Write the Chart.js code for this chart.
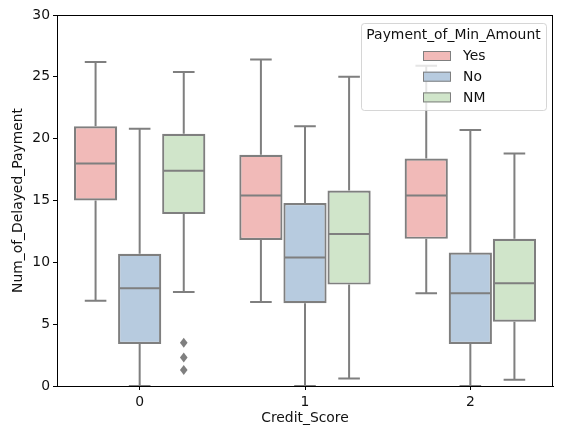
<!DOCTYPE html>
<html>
<head>
<meta charset="utf-8">
<script src="https://cdn.jsdelivr.net/npm/chart.js@4"></script>
<style>
  html, body { margin: 0; padding: 0; background: #fff; }
  #wrap { width: 563px; height: 438px; }
</style>
</head>
<body>
<div id="wrap"><canvas id="chart" width="563" height="438"></canvas></div>
<script>
const creditScores = ["0", "1", "2"];
const hueLabels = ["Yes", "No", "NM"];
const hueColors = ["#f1bab8", "#b7cbdf", "#d0e5ca"];

// per hue, one entry per credit score
const whiskerLow = [[6.9, 6.8, 7.5], [0, 0, 0], [7.6, 0.6, 0.5]];
const q1Values = [[15.0, 11.8, 11.9], [3.4, 6.7, 3.4], [13.9, 8.2, 5.2]];
const medianValues = [[18.0, 15.4, 15.4], [7.9, 10.4, 7.5], [17.4, 12.3, 8.3]];
const q3Values = [[21.0, 18.7, 18.4], [10.7, 14.8, 10.8], [20.4, 15.8, 11.9]];
const whiskerHigh = [[26.2, 26.4, 25.9], [20.8, 21.0, 20.7], [25.4, 25.0, 18.8]];
// outliers: [hue, category, value]
const outliers = [[2, 0, 3.5], [2, 0, 2.3], [2, 0, 1.3]];

const yTicks = [0, 5, 10, 15, 20, 25, 30];
const edgeColor = "#7f7f7f";
const textColor = "#111";
const fontFamily = "'DejaVu Sans', sans-serif";
const fontSize = 13.9;

const datasets = hueLabels.map((name, h) => ({
  label: name,
  data: creditScores.map((c, i) => [q1Values[h][i], q3Values[h][i]]),
  backgroundColor: hueColors[h],
  borderColor: edgeColor,
  borderWidth: 2.2,
  borderSkipped: false,
  categoryPercentage: 0.8,
  barPercentage: 0.98
}));

const boxPlugin = {
  id: "boxParts",
  afterDatasetsDraw(chart) {
    const ctx = chart.ctx;
    const y = chart.scales.y;
    ctx.save();
    ctx.strokeStyle = edgeColor;
    ctx.lineWidth = 2;
    chart.data.datasets.forEach((ds, h) => {
      const meta = chart.getDatasetMeta(h);
      meta.data.forEach((bar, i) => {
        const cx = bar.x;
        const half = bar.width / 2;
        const cap = bar.width / 4;
        const yLo = y.getPixelForValue(whiskerLow[h][i]);
        const yQ1 = y.getPixelForValue(q1Values[h][i]);
        const yMed = y.getPixelForValue(medianValues[h][i]);
        const yQ3 = y.getPixelForValue(q3Values[h][i]);
        const yHi = y.getPixelForValue(whiskerHigh[h][i]);
        ctx.beginPath();
        ctx.moveTo(cx, yQ1); ctx.lineTo(cx, yLo);
        ctx.moveTo(cx, yQ3); ctx.lineTo(cx, yHi);
        ctx.moveTo(cx - cap, yLo); ctx.lineTo(cx + cap, yLo);
        ctx.moveTo(cx - cap, yHi); ctx.lineTo(cx + cap, yHi);
        ctx.moveTo(cx - half + 1, yMed); ctx.lineTo(cx + half - 1, yMed);
        ctx.stroke();
      });
    });
    ctx.fillStyle = edgeColor;
    outliers.forEach(([h, i, v]) => {
      const bar = chart.getDatasetMeta(h).data[i];
      const px = bar.x;
      const py = y.getPixelForValue(v);
      ctx.beginPath();
      ctx.moveTo(px, py - 5);
      ctx.lineTo(px + 3.8, py);
      ctx.lineTo(px, py + 5);
      ctx.lineTo(px - 3.8, py);
      ctx.closePath();
      ctx.fill();
    });
    ctx.restore();
  },
  afterDraw(chart) {
    const ctx = chart.ctx;
    const a = chart.chartArea;
    ctx.save();
    // frame
    ctx.strokeStyle = "#000";
    ctx.lineWidth = 1;
    ctx.strokeRect(a.left + 0.5, a.top + 0.5, a.right - a.left - 1, a.bottom - a.top);
    // legend
    const lx = a.right - 192, ly = a.top + 8, lw = 185, lh = 87;
    ctx.globalAlpha = 0.8;
    ctx.fillStyle = "#fff";
    ctx.strokeStyle = "#cccccc";
    ctx.beginPath();
    ctx.roundRect(lx + 0.5, ly + 0.5, lw, lh, 3);
    ctx.fill();
    ctx.stroke();
    ctx.globalAlpha = 1;
    ctx.fillStyle = textColor;
    ctx.font = fontSize + "px " + fontFamily;
    ctx.textBaseline = "middle";
    ctx.textAlign = "center";
    ctx.fillText("Payment_of_Min_Amount", lx + lw / 2, ly + 12);
    ctx.textAlign = "left";
    hueLabels.forEach((name, h) => {
      const cy = ly + 33 + h * 20.7;
      ctx.fillStyle = hueColors[h];
      ctx.fillRect(lx + 62, cy - 5, 28, 10);
      ctx.strokeStyle = edgeColor;
      ctx.lineWidth = 1;
      ctx.strokeRect(lx + 62.5, cy - 4.5, 27, 9);
      ctx.fillStyle = textColor;
      ctx.fillText(name, lx + 102, cy + 0.5);
    });
    ctx.restore();
  }
};

new Chart(document.getElementById("chart"), {
  type: "bar",
  data: { labels: creditScores, datasets },
  plugins: [boxPlugin],
  options: {
    responsive: false,
    animation: false,
    layout: { padding: { left: 0, right: 10, top: 15, bottom: 0 } },
    plugins: { legend: { display: false }, tooltip: { enabled: false } },
    scales: {
      x: {
        grid: { display: true, offset: false, drawOnChartArea: false, drawTicks: true, tickLength: 4, color: "#000" },
        border: { display: true, color: "#000" },
        ticks: { color: textColor, font: { family: fontFamily, size: fontSize }, padding: 4 },
        title: { display: true, text: "Credit_Score", color: textColor, font: { family: fontFamily, size: fontSize }, padding: { top: 0, bottom: 11 } },
        afterFit(scale) { scale.height = 52; }
      },
      y: {
        min: 0,
        max: 30,
        afterBuildTicks(scale) { scale.ticks = yTicks.map(v => ({ value: v })); },
        grid: { display: true, drawOnChartArea: false, drawTicks: true, tickLength: 4, color: "#000" },
        border: { display: true, color: "#000" },
        ticks: { color: textColor, font: { family: fontFamily, size: fontSize }, padding: 3 },
        title: { display: true, text: "Num_of_Delayed_Payment", color: textColor, font: { family: fontFamily, size: fontSize }, padding: { top: 10, bottom: 0 } },
        afterFit(scale) { scale.width = 57; }
      }
    }
  }
});
</script>
</body>
</html>
